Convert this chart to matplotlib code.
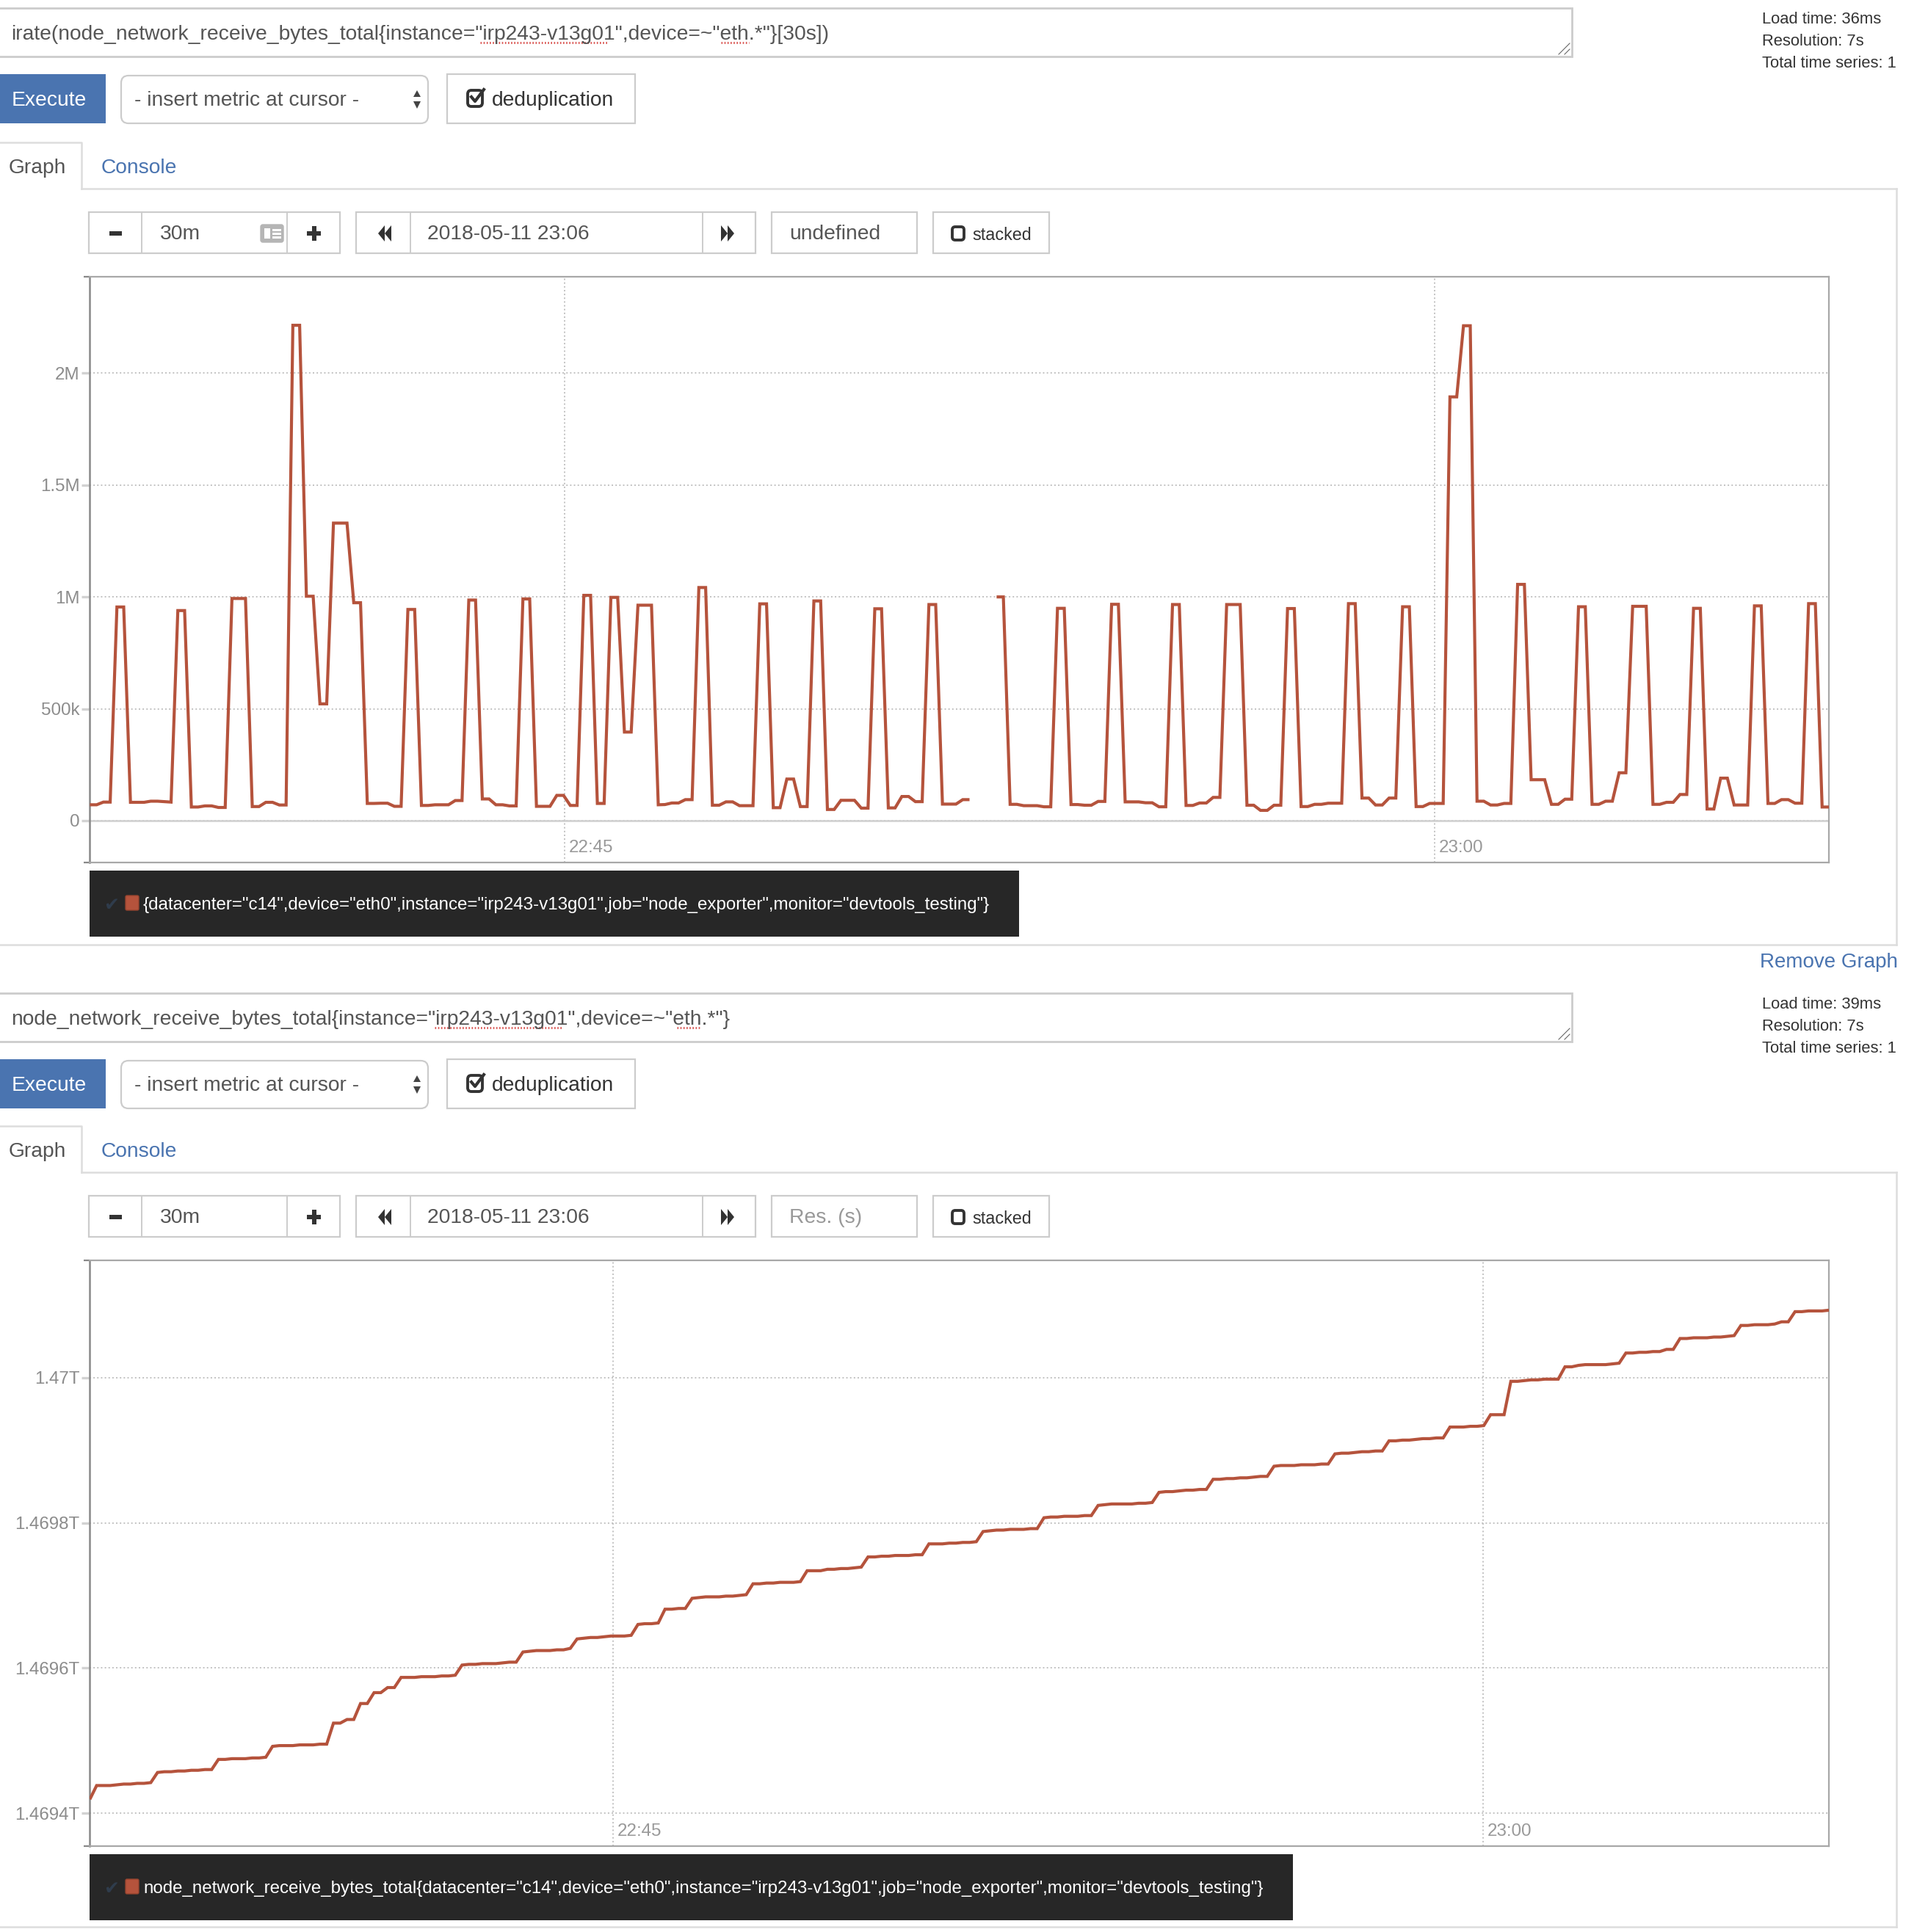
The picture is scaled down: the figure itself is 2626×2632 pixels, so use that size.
import numpy as np
import matplotlib
matplotlib.use("Agg")
import matplotlib.pyplot as plt
from matplotlib.patches import Rectangle, FancyBboxPatch, Polygon

plt.rcParams['font.family'] = ['Liberation Sans', 'DejaVu Sans']

W, H = 2626, 2632

# --- data, one value per 7s step ---
nan = float('nan')
irate_k = [
    71, 71, 83, 83, 955, 955, 82, 82, 82, 87,
    87, 85, 83, 939, 939, 61, 61, 66, 66, 59,
    59, 993, 993, 993, 63, 63, 82, 82, 70, 70,
    2214, 2214, 1003, 1003, 522, 522, 1330, 1330, 1330, 974,
    974, 77, 77, 78, 78, 64, 64, 944, 944, 68,
    68, 71, 71, 71, 90, 90, 986, 986, 97, 97,
    71, 71, 66, 66, 991, 991, 64, 64, 64, 113,
    113, 68, 68, 1007, 1007, 77, 77, 998, 998, 396,
    396, 963, 963, 963, 71, 72, 79, 79, 94, 94,
    1042, 1042, 69, 69, 84, 84, 67, 67, 67, 969,
    969, 58, 58, 186, 186, 63, 63, 982, 982, 50,
    50, 91, 91, 91, 56, 56, 947, 947, 57, 57,
    108, 108, 85, 85, 966, 966, 74, 74, 74, 94,
    94, nan, nan, nan, 1000, 1000, 73, 73, 67, 67,
    67, 62, 62, 949, 949, 72, 72, 69, 69, 86,
    86, 967, 967, 84, 84, 84, 80, 80, 62, 62,
    966, 966, 68, 68, 79, 79, 104, 104, 966, 966,
    966, 69, 69, 46, 46, 69, 69, 948, 948, 63,
    63, 73, 73, 78, 78, 78, 970, 970, 101, 101,
    70, 70, 101, 101, 956, 956, 63, 63, 77, 77,
    77, 1894, 1894, 2212, 2212, 87, 87, 70, 70, 77,
    77, 1056, 1056, 183, 183, 183, 73, 73, 96, 96,
    956, 956, 73, 73, 87, 87, 214, 214, 958, 958,
    958, 73, 73, 82, 82, 117, 117, 949, 949, 52,
    52, 190, 190, 70, 70, 70, 960, 960, 77, 77,
    94, 94, 78, 78, 970, 970, 61, 61,
]

# MB above counter_base_mb
counter_base_mb = 1469400
counter_mb = [
    19, 38, 38, 38, 39, 40, 40, 41, 41, 42,
    56, 57, 57, 58, 58, 59, 59, 60, 60, 74,
    74, 75, 75, 75, 76, 76, 77, 92, 93, 93,
    93, 94, 94, 94, 95, 95, 124, 124, 129, 129,
    151, 151, 166, 166, 173, 173, 187, 187, 187, 188,
    188, 188, 189, 189, 190, 204, 205, 205, 206, 206,
    206, 207, 208, 208, 222, 223, 224, 224, 224, 225,
    225, 227, 240, 241, 242, 242, 243, 244, 244, 244,
    245, 260, 261, 261, 262, 281, 281, 282, 282, 296,
    297, 298, 298, 298, 299, 299, 300, 301, 316, 316,
    317, 317, 318, 318, 318, 319, 334, 334, 334, 336,
    336, 337, 337, 338, 339, 353, 353, 354, 354, 355,
    355, 355, 356, 356, 371, 371, 371, 372, 372, 373,
    373, 374, 388, 389, 390, 390, 391, 391, 391, 392,
    392, 407, 408, 408, 409, 409, 409, 410, 410, 424,
    425, 426, 426, 426, 426, 427, 427, 428, 442, 443,
    443, 444, 445, 445, 446, 446, 460, 460, 461, 461,
    462, 462, 463, 464, 464, 478, 479, 479, 479, 480,
    480, 480, 481, 481, 495, 496, 496, 497, 498, 498,
    499, 499, 513, 513, 514, 514, 515, 516, 516, 517,
    517, 532, 532, 532, 533, 533, 534, 549, 549, 549,
    595, 595, 596, 597, 597, 598, 598, 598, 615, 615,
    617, 618, 618, 618, 618, 619, 620, 634, 634, 635,
    635, 636, 636, 639, 639, 654, 654, 655, 655, 655,
    656, 656, 657, 658, 672, 672, 673, 673, 673, 674,
    677, 677, 691, 691, 692, 692, 692, 693,
]

irate_yticks = [0, 500e3, 1e6, 1.5e6, 2e6]
irate_ylabels = ['0', '500k', '1M', '1.5M', '2M']
counter_yticks = [1.4694e12, 1.4696e12, 1.4698e12, 1.47e12]
counter_ylabels = ['1.4694T', '1.4696T', '1.4698T', '1.47T']
time_ticks = [540, 1440]  # seconds after 22:36
time_labels = ['22:45', '23:00']
step_s = 7

queries = ['irate(node_network_receive_bytes_total{instance="irp243-v13g01",device=~"eth.*"}[30s])',
           'node_network_receive_bytes_total{instance="irp243-v13g01",device=~"eth.*"}']
legends = ['{datacenter="c14",device="eth0",instance="irp243-v13g01",job="node_exporter",monitor="devtools_testing"}',
           'node_network_receive_bytes_total{datacenter="c14",device="eth0",instance="irp243-v13g01",job="node_exporter",monitor="devtools_testing"}']
load_times = ['36ms', '39ms']

LINE = '#b5533c'
BORDER = '#cccccc'
TEXT = '#555555'
BLUE = '#4a74b0'
BIG = 20.35
SMALL = 15.8


fig = plt.figure(figsize=(W / 100, H / 100), dpi=100, facecolor='white')

# overlay in pixel coordinates for the page around the charts
ui = fig.add_axes([0, 0, 1, 1])
ui.set_xlim(0, W)
ui.set_ylim(H, 0)
ui.axis('off')


def box(x0, y0, x1, y1, fc='white', ec=BORDER, lw=1.6, round_px=0):
    if round_px:
        p = FancyBboxPatch((x0, y0), x1 - x0, y1 - y0, boxstyle=f'round,pad=0,rounding_size={round_px}',
                           fc=fc, ec=ec, lw=lw)
    else:
        p = Rectangle((x0, y0), x1 - x0, y1 - y0, fc=fc, ec=ec, lw=lw)
    ui.add_patch(p)


def label(x, y, s, size=BIG, color=TEXT, **kw):
    kw.setdefault('va', 'center')
    ui.text(x, y + 1.5, s, fontsize=size, color=color, **kw)


def double_arrow(cx, cy, d):
    for off in (-9, 0):
        ui.add_patch(Polygon([(cx + d * off, cy - 11), (cx + d * (off + 9), cy), (cx + d * off, cy + 11)],
                             fc='#333333', ec='none'))


def squiggle(x0, x1, y):
    ui.plot([x0, x1], [y, y], color='#d9534f', lw=2.0, ls=(0, (0.6, 0.9)))


def check_box(cx, cy):
    box(cx - 10, cy - 11, cx + 10, cy + 11, fc='white', ec='#333333', lw=2.8, round_px=5)
    ui.plot([cx - 5, cx, cx + 12], [cy - 2, cy + 4, cy - 12], color='#333333', lw=3)


def panel(dy_top, dy_exec, dy_ctrl, query, squig, load, time_box, has_icon):
    # query text area
    y0, y1 = 11 + dy_top, 77 + dy_top
    box(-5, y0, 2141, y1, lw=2.0)
    label(15, 45 + dy_top, query)
    for x0, x1 in squig:
        squiggle(x0, x1, 57.5 + dy_top)
    ui.plot([2123, 2138], [74 + dy_top, 59 + dy_top], color='#666666', lw=0.8)
    ui.plot([2131, 2138], [74 + dy_top, 67 + dy_top], color='#666666', lw=0.8)
    # load time block
    label(2400, 25 + dy_top, 'Load time: ' + load, size=SMALL, color='#333333')
    label(2400, 55 + dy_top, 'Resolution: 7s', size=SMALL, color='#333333')
    label(2400, 85 + dy_top, 'Total time series: 1', size=SMALL, color='#333333')

    # execute row
    d = dy_exec
    ui.add_patch(Rectangle((0, 101 + d), 144, 67, fc=BLUE, ec='none'))
    label(16, 135 + d, 'Execute', color='white')
    box(165, 103 + d, 583, 168 + d, lw=1.6, round_px=10)
    label(183, 135 + d, '- insert metric at cursor -', color=TEXT)
    ui.add_patch(Polygon([(563, 132 + d), (573, 132 + d), (568, 123 + d)], fc='#444444', ec='none'))
    ui.add_patch(Polygon([(563, 138 + d), (573, 138 + d), (568, 148 + d)], fc='#444444', ec='none'))
    box(609, 101 + d, 865, 168 + d, lw=1.6)
    check_box(647, 134 + d)
    label(670, 135 + d, 'deduplication', color='#333333')

    # tabs
    d = dy_ctrl
    ui.plot([111, 2583], [257 + d, 257 + d], color='#dddddd', lw=1.8)
    ui.plot([0, 111, 111], [194 + d, 194 + d, 257 + d], color='#dddddd', lw=1.8)
    label(12, 227 + d, 'Graph', color=TEXT)
    label(138, 227 + d, 'Console', color=BLUE)

    # time controls
    c0, c1 = 289 + d, 345 + d
    cy = 318 + d
    box(120.5, c0, 463, c1)
    ui.plot([193, 193], [c0, c1], color=BORDER, lw=1.4)
    ui.plot([391, 391], [c0, c1], color=BORDER, lw=1.4)
    ui.add_patch(Rectangle((149, cy - 3), 17, 6, fc='#333333', ec='none'))
    label(218, cy, '30m')
    if has_icon:
        box(355, cy - 12, 386, cy + 12, fc='#b5b5b5', ec='#b5b5b5', lw=1, round_px=3)
        ui.add_patch(Rectangle((360, cy - 7), 8, 14, fc='white', ec='none'))
        for off in (-6, -1, 4):
            ui.add_patch(Rectangle((371, cy + off), 12, 2.5, fc='white', ec='none'))
    ui.add_patch(Rectangle((418, cy - 3), 19, 6, fc='#333333', ec='none'))
    ui.add_patch(Rectangle((424.5, cy - 10), 6, 20, fc='#333333', ec='none'))
    box(485, c0, 1029, c1)
    ui.plot([559, 559], [c0, c1], color=BORDER, lw=1.4)
    ui.plot([957, 957], [c0, c1], color=BORDER, lw=1.4)
    double_arrow(524, cy, -1)
    double_arrow(991, cy, 1)
    label(582, cy, '2018-05-11 23:06')
    box(1051, c0, 1249, c1)
    label(1075, cy, time_box[0], color=time_box[1])
    box(1271, c0, 1429, c1)
    box(1297, cy - 9, 1313, cy + 9, ec='#333333', lw=2.8, round_px=4)
    label(1324, cy + 1, 'stacked', size=16.8, color='#333333')


def chart(top, bottom, x, y, t0, yticks, ylabels, ylim, zero_line):
    ax = fig.add_axes([122.4 / W, 1 - bottom / H, (2491 - 122.4) / W, (bottom - top) / H])
    ax.set_facecolor('none')
    ax.plot(x, y, color=LINE, lw=3.0, solid_joinstyle='miter', solid_capstyle='butt', zorder=3)
    ax.set_xlim(t0, t0 + 257 * step_s)
    ax.set_ylim(*ylim)
    ax.set_xticks(time_ticks)
    ax.set_xticklabels(time_labels, ha='left')
    ax.set_yticks(yticks)
    ax.set_yticklabels(ylabels)
    ax.set_yticks(list(ylim), minor=True)
    ax.grid(True, which='major', color='#c2c2c2', ls=':', lw=1.4)
    ax.set_axisbelow(True)
    ax.tick_params(axis='x', length=0, pad=-22, labelsize=17.4, labelcolor='#999999')
    ax.tick_params(axis='y', which='major', length=8, width=2.4, color='#d2d2d2', pad=2,
                   labelsize=17.4, labelcolor='#8c8c8c')
    ax.tick_params(axis='y', which='minor', length=6, width=1.6, color='#888888')
    for name in ('top', 'right', 'bottom'):
        ax.spines[name].set_color('#a8a8a8')
        ax.spines[name].set_linewidth(1.6)
    ax.spines['left'].set_color('#888888')
    ax.spines['left'].set_linewidth(1.8)
    if zero_line:
        ax.axhline(0, color='#cfcfcf', lw=1.8, zorder=2)
    # x labels sit just right of their grid line
    for tick in ax.xaxis.get_major_ticks():
        tick.label1.set_transform(tick.label1.get_transform() +
                                  matplotlib.transforms.ScaledTranslation(6 / 100, 0, fig.dpi_scale_trans))
    return ax


def legend_bar(y0, y1, x1, text):
    ui.add_patch(Rectangle((122, y0), x1 - 122, y1 - y0, fc='#272727', ec='none'))
    cy = (y0 + y1) / 2 + 1
    label(141, cy, '\u2714', size=18, color='#2f3c4c', family=['DejaVu Sans'])
    ui.add_patch(FancyBboxPatch((171, cy - 12), 18, 20, boxstyle='round,pad=0,rounding_size=2',
                                fc=LINE, ec='#96442f', lw=1))
    label(195, cy, text, size=17.35, color='white')


irate_values = np.array(irate_k) * 1e3
counter_values = (counter_base_mb + np.array(counter_mb)) * 1e6
steps = np.arange(len(irate_k))

panel(0, 0, 0, queries[0], [(654, 829), (982, 1020)], load_times[0], ('undefined', TEXT), True)
panel(1342, 1342, 1340, queries[1], [(592, 767), (922, 953)], load_times[1], ('Res. (s)', '#999999'), False)

irate_t0 = 49
counter_t0 = -1
chart(377, 1175, irate_t0 + steps * step_s, irate_values, irate_t0,
      irate_yticks, irate_ylabels, (-187e3, 2431e3), True)
chart(1717, 2515, counter_t0 + steps * step_s, counter_values, counter_t0,
      counter_yticks, counter_ylabels, (1.4693545e12, 1.4701617e12), False)

legend_bar(1186, 1276, 1388, legends[0])
legend_bar(2526, 2616, 1761, legends[1])

# page frame around the graph panels
ui.plot([2583, 2583], [257, 1287], color='#dddddd', lw=1.8)
ui.plot([0, 2583], [1287, 1287], color='#dddddd', lw=1.8)
ui.plot([2583, 2583], [1597, 2625], color='#dddddd', lw=1.8)
ui.plot([0, 2583], [2625, 2625], color='#dddddd', lw=1.8)
label(2397, 1309, 'Remove Graph', size=20, color=BLUE)

fig.savefig('out.png', dpi=100)
